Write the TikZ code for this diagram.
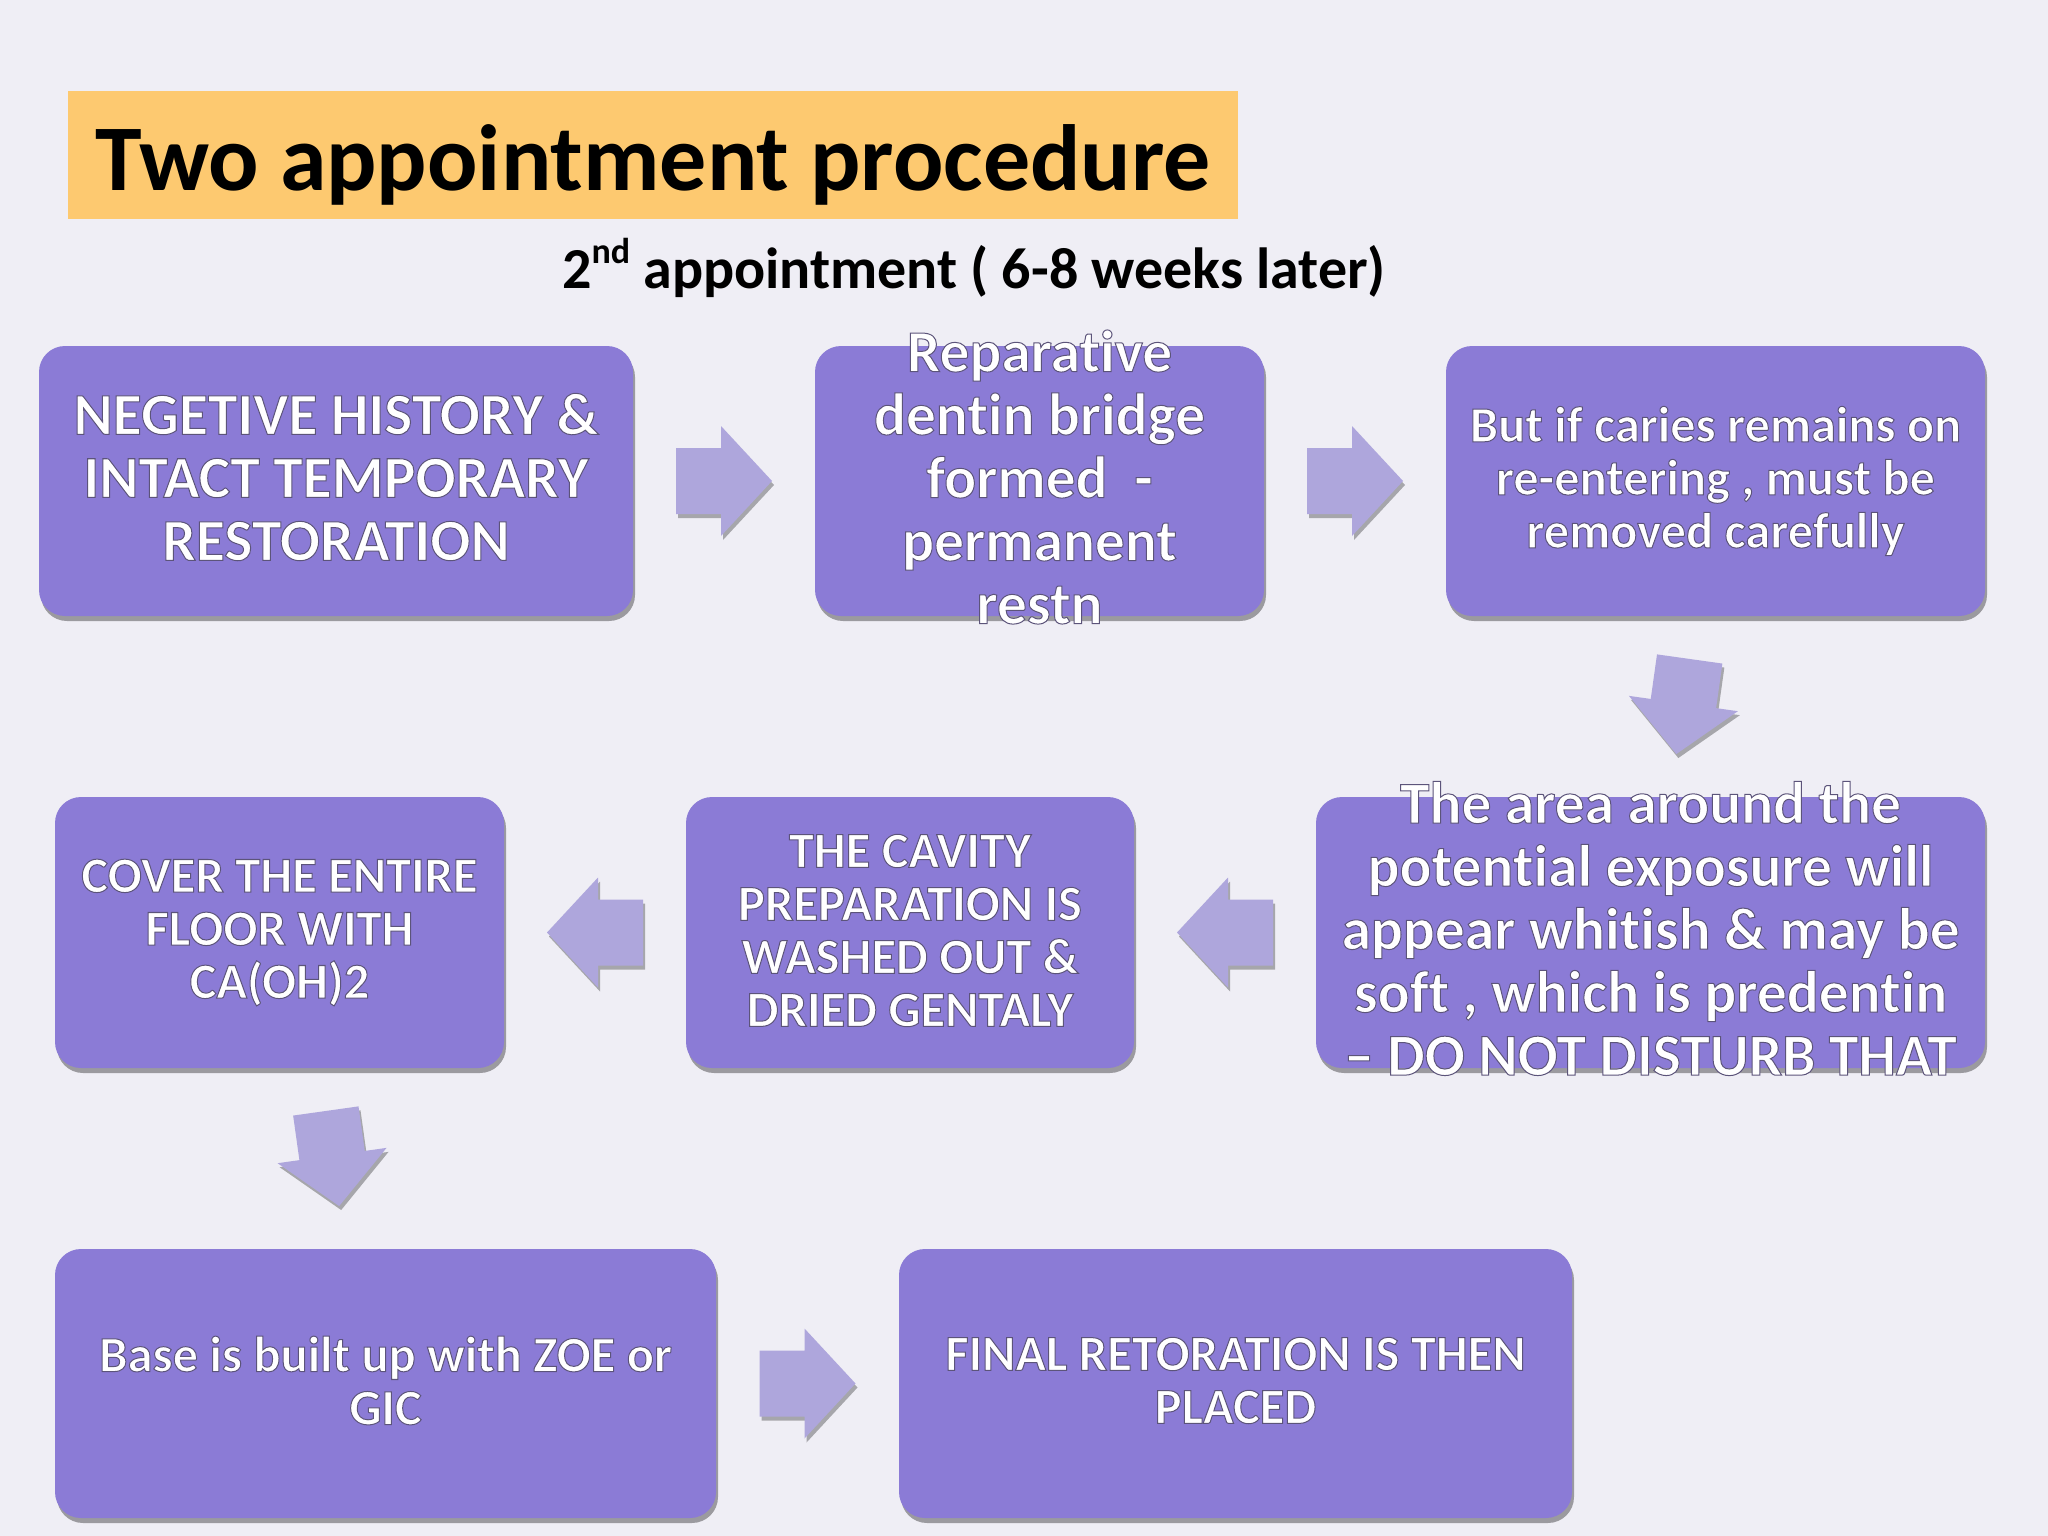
\documentclass[tikz,border=0pt]{standalone}
\usepackage{fontspec}
\setmainfont{Carlito}[Ligatures=NoCommon]
\usetikzlibrary{shadows,calc}
\definecolor{bgc}{RGB}{239,238,245}
\definecolor{boxc}{RGB}{139,123,214}
\definecolor{arrc}{RGB}{174,166,220}
\definecolor{titlec}{RGB}{253,201,112}
\newcommand{\outl}{\special{pdf:literal direct 2 Tr 1.0 w 0.36 0.33 0.48 RG}}
\tikzset{
  pbox/.style={fill=boxc, rounded corners=26pt, inner sep=0pt,
    drop shadow={shadow xshift=2pt, shadow yshift=-5pt, fill=black, opacity=0.35}},
  boxtxt/.style={align=center, inner sep=0pt, execute at begin node={\color{white}\outl}},
  bigtxt/.style={boxtxt, yshift=4pt, font=\bfseries\fontsize{59.5}{63}\selectfont},
  smalltxt/.style={boxtxt, font=\bfseries\fontsize{50.5}{53}\selectfont},
  blockarr/.pic={\fill[arrc, drop shadow={shadow xshift=2pt, shadow yshift=-4pt, fill=black, opacity=0.3}]
     (-48,-33) -- (-3,-33) -- (-3,-55) -- (48,0) -- (-3,55) -- (-3,33) -- (-48,33) -- cycle;}
}
\begin{document}
\begin{tikzpicture}[x=1pt, y=-1pt]
\fill[bgc] (0,0) rectangle (2048,1536);
\useasboundingbox (0,0) rectangle (2048,1536);

\node[fill=titlec, minimum width=1170pt, minimum height=128pt, inner sep=0pt,
      text height=70pt, text depth=0pt,
      font=\bfseries\fontsize{94}{110}\selectfont] (title) at (653,155) {Two appointment procedure};
\node[font=\bfseries\fontsize{58}{63}\selectfont, inner sep=0pt] (sub) at (974,268)
      {2\raisebox{0.42em}{\fontsize{36}{36}\selectfont nd} appointment ( 6-8 weeks later)};

\node[pbox, minimum width=594pt, minimum height=270pt,
      label={[bigtxt]center:NEGETIVE HISTORY \&\\INTACT TEMPORARY\\RESTORATION}] (b1) at (336,481) {};
\node[pbox, minimum width=449pt, minimum height=270pt,
      label={[bigtxt]center:Reparative\\dentin bridge\\formed~ -\\permanent\\restn}] (b2) at (1039.5,481) {};
\node[pbox, minimum width=539pt, minimum height=270pt,
      label={[smalltxt]center:But if caries remains on\\re-entering , must be\\removed carefully}] (b3) at (1715.5,481) {};
\node[pbox, minimum width=669pt, minimum height=271pt,
      label={[bigtxt]center:The area around the\\potential exposure will\\appear whitish \& may be\\soft , which is predentin\\– DO NOT DISTURB THAT}] (b4) at (1650.5,932.5) {};
\node[pbox, minimum width=448pt, minimum height=271pt,
      label={[smalltxt, yshift=2pt]center:THE CAVITY\\PREPARATION IS\\WASHED OUT \&\\DRIED GENTALY}] (b5) at (910,932.5) {};
\node[pbox, minimum width=449pt, minimum height=271pt,
      label={[smalltxt]center:COVER THE ENTIRE\\FLOOR WITH\\CA(OH)2}] (b6) at (279.5,932.5) {};
\node[pbox, minimum width=661pt, minimum height=269pt,
      label={[smalltxt, yshift=3pt]center:Base is built up with ZOE or\\GIC}] (b7) at (385.5,1383.5) {};
\node[pbox, minimum width=673pt, minimum height=269pt,
      label={[smalltxt, yshift=3pt]center:FINAL RETORATION IS THEN\\PLACED}] (b8) at (1235.5,1383.5) {};

\pic at ($(b1.east)!0.5!(b2.west)$) {blockarr};
\pic at ($(b2.east)!0.5!(b3.west)$) {blockarr};
\pic[rotate=-98] at ($(b3.south)!0.5!(b4.north)$) {blockarr};
\pic[rotate=180] at ($(b4.west)!0.5!(b5.east)$) {blockarr};
\pic[rotate=180] at ($(b5.west)!0.5!(b6.east)$) {blockarr};
\pic[rotate=-82] at ($(b6.south)!0.5!(b7.north)$) {blockarr};
\pic at ($(b7.east)!0.5!(b8.west)$) {blockarr};
\end{tikzpicture}
\end{document}
